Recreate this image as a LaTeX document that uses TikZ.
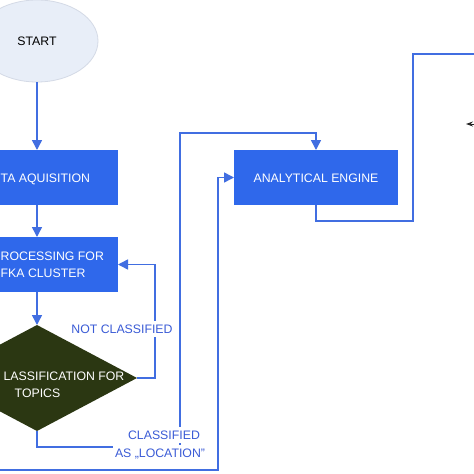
\documentclass[tikz,border=0pt]{standalone}
\usepackage{fontspec}
\setmainfont{Liberation Sans}
\usetikzlibrary{shapes.geometric,arrows.meta,calc}
\definecolor{boxblue}{HTML}{2F68EB}
\definecolor{lineblue}{HTML}{416EE1}
\definecolor{labelblue}{HTML}{3A5BD6}
\definecolor{olive}{HTML}{2B3712}
\definecolor{ellfill}{HTML}{E8EEF8}
\definecolor{elldraw}{HTML}{D4DAE6}
\begin{document}
\begin{tikzpicture}[x=1pt,y=-1pt,
  txt/.style={font=\fontsize{12.3pt}{14pt}\selectfont, inner sep=0pt, text height=8.8pt, text depth=0pt},
  startnode/.style={ellipse, fill=ellfill, draw=elldraw, line width=0.8pt, minimum width=122pt, minimum height=82pt, inner sep=0pt, outer sep=0pt, font=\fontsize{12.3pt}{14pt}\selectfont},
  boxnode/.style={rectangle, fill=boxblue, draw=none, inner sep=0pt, outer sep=0pt, minimum height=55pt},
  decnode/.style={diamond, fill=olive, draw=none, inner sep=0pt, outer sep=0pt, minimum width=200pt, minimum height=106pt},
  boxtext/.style={txt, text=white},
  lbl/.style={txt, text=labelblue, fill=white, inner xsep=2pt, inner ysep=3.5pt},
  conn/.style={draw=lineblue, line width=1.5pt},
  arr/.style={conn, -{Triangle[length=10pt,width=10pt]}},
  darkarr/.style={draw=black!85, line width=1pt, -{Stealth[length=7pt,width=5pt]}}]
\fill[white] (0,0) rectangle (474,474);
\useasboundingbox (0,0) rectangle (474,474);

% shapes
\node[startnode] (start) at (37,41) {START};
\node[boxnode, minimum width=162pt] (acq) at (37,177.5) {};
\node[boxnode, minimum width=162pt] (proc) at (37,264.5) {};
\node[decnode] (dia) at (37,378) {};
\node[boxnode, minimum width=164pt] (eng) at (316,177.5) {};

% texts inside shapes
\node[boxtext, anchor=west] (acqt) at (0.5,178) {TA AQUISITION};
\node[boxtext, anchor=west] (proct1) at (0.5,256) {ROCESSING FOR};
\node[boxtext, anchor=west] (proct2) at (0.5,273) {FKA CLUSTER};
\node[boxtext] (diat1) at (64,376) {LASSIFICATION FOR};
\node[boxtext] (diat2) at (37.5,393) {TOPICS};
\node[boxtext] (engt) at (316,178) {ANALYTICAL ENGINE};

% free ends
\coordinate (bl) at (-10,470);
\coordinate (tr) at (490,54);
\coordinate (ra) at (478,124);
\coordinate (rb) at (466,124);

% connectors
\draw[arr] (start.south) -- (acq.north);
\draw[arr] (acq.south) -- (proc.north);
\draw[arr] (proc.south) -- (dia.north);
\draw[arr] (dia.east) -- ++(18,0) |- (proc.east);
\draw[arr] (dia.south) |- (180,447) -- (180,133) -| (eng.north);
\draw[arr] (bl) -- (218,470) |- (eng.west);
\draw[conn] (eng.south) -- ++(0,16) -| (413,54) -- (tr);
\draw[darkarr] (ra) -- (rb);

% connector labels
\node[lbl] (nc) at (122,329) {NOT CLASSIFIED};
\node[lbl] (cl1) at (164,435) {CLASSIFIED};
\node[lbl] (cl2) at (160,453) {AS „LOCATION”};
\end{tikzpicture}
\end{document}
